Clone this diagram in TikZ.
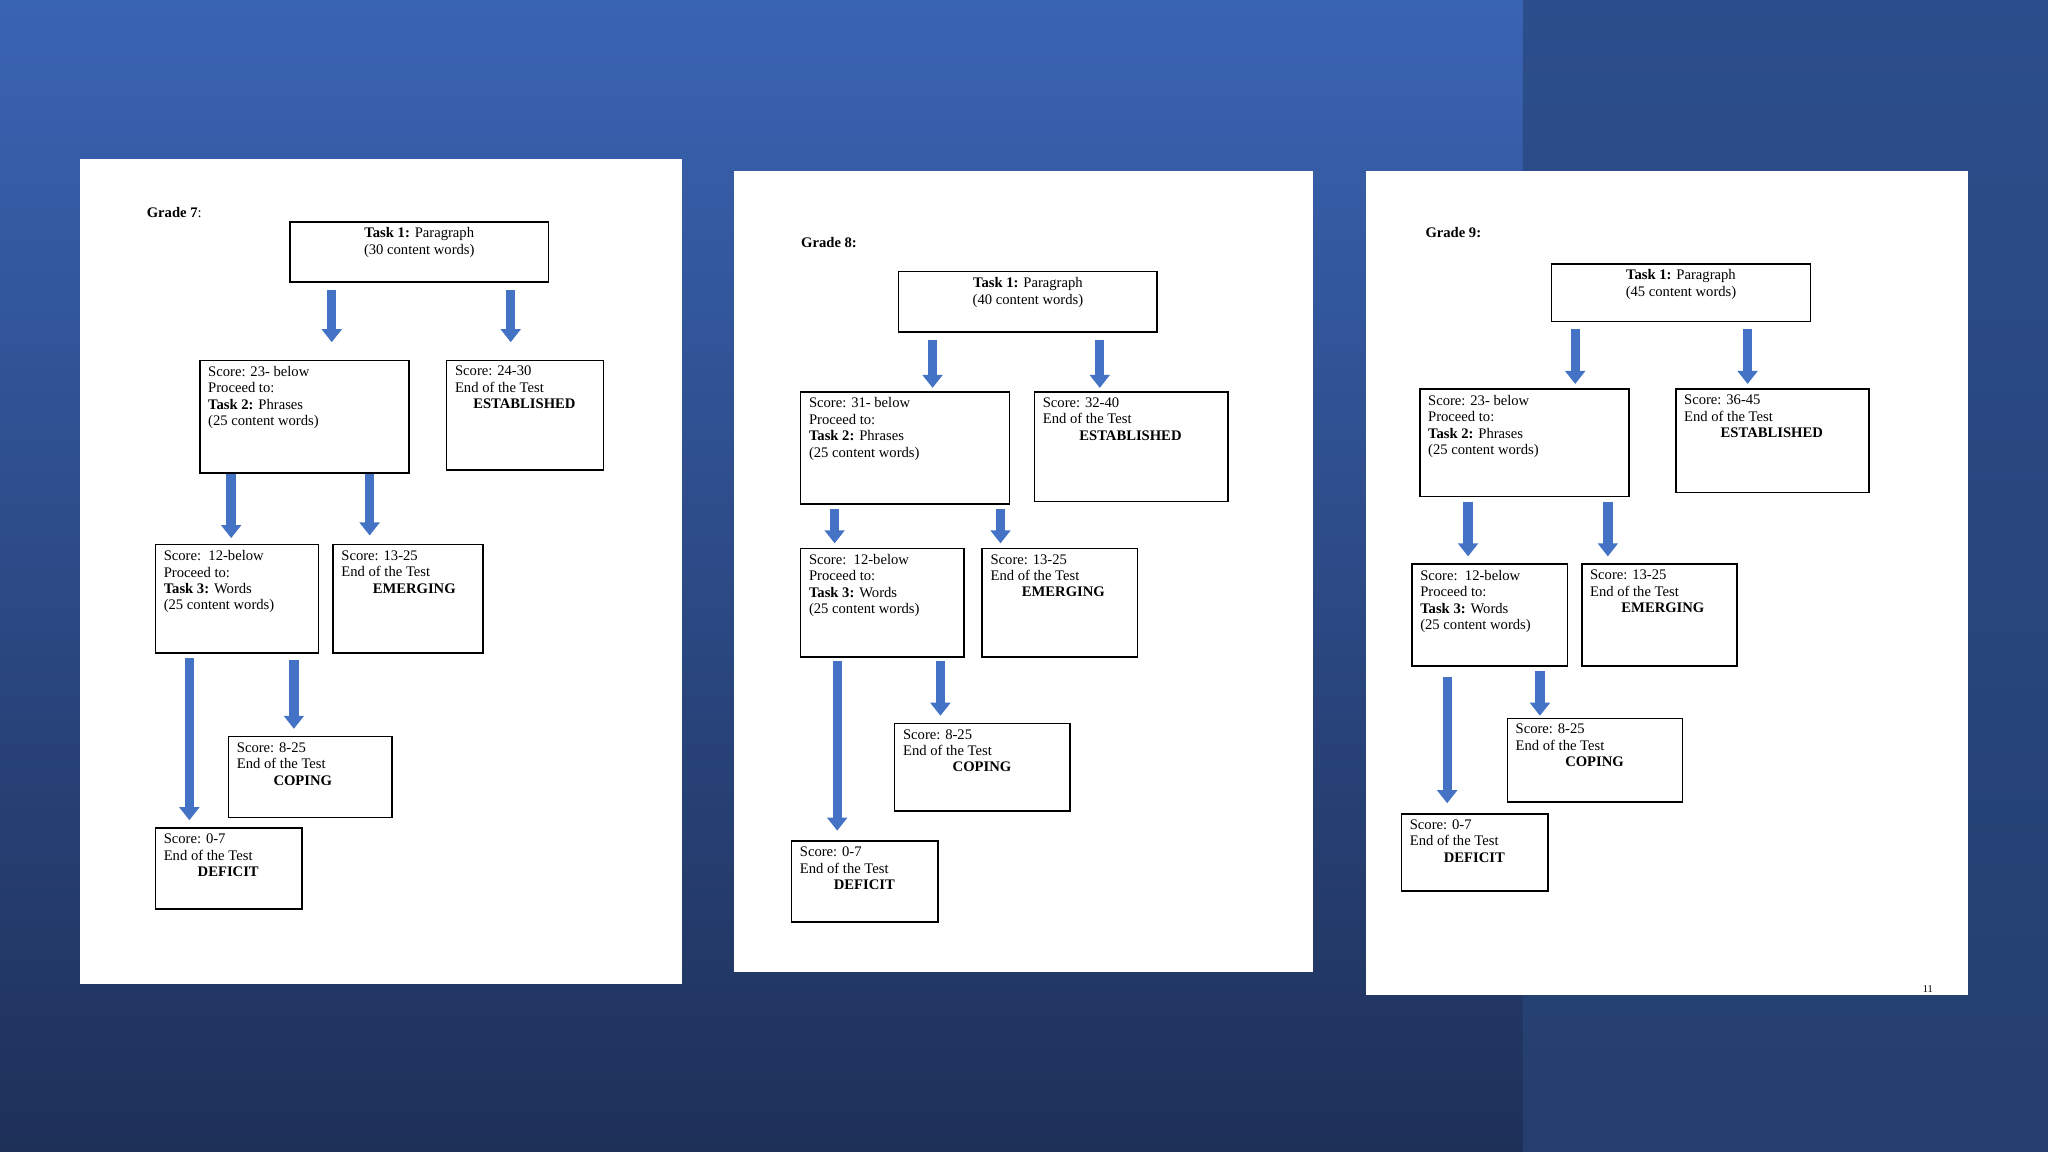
\documentclass[tikz,border=0pt]{standalone}
\usepackage{fontspec}
\setmainfont{Liberation Serif}
\usetikzlibrary{calc,arrows.meta}
\definecolor{arrblue}{RGB}{68,114,196}
\tikzset{
  boxst/.style={draw=black,line width=0.6pt,fill=white,inner sep=0pt,outer sep=0pt},
  txt/.style={inner sep=0pt,align=left,font=\fontsize{5.6}{6.3}\selectfont},
  barrow/.style={draw=arrblue,line width=3.6pt,-{Triangle[width=7.5pt,length=5pt]}},
  page/.style={fill=white,draw=none}
}
\newcommand\bx[6]{%
  \node[boxst,minimum width={(#4-#2)*0.5pt},minimum height={(#5-#3)*0.5pt}] (#1) at ({(#2+#4)/2},{(#3+#5)/2}) {};
  \node[txt,anchor=north west] (#1t) at ($(#1.north west)+(6,4)$) {#6};}
\newcommand\tbx[6]{%
  \node[boxst,minimum width={(#4-#2)*0.5pt},minimum height={(#5-#3)*0.5pt}] (#1) at ({(#2+#4)/2},{(#3+#5)/2}) {};
  \node[txt,anchor=north,align=center] (#1t) at ($(#1.north)+(0,4)$) {#6};}
\newcommand\arw[4]{\coordinate (#1a) at (#2,#3); \coordinate (#1b) at (#2,#4); \draw[barrow] (#1a) -- (#1b);}
\begin{document}
\begin{tikzpicture}[x=0.5pt,y=-0.5pt]
\useasboundingbox (0,0) rectangle (1568,882);
\shade[top color={rgb,255:red,58;green,100;blue,180}, bottom color={rgb,255:red,30;green,48;blue,88}] (0,0) rectangle (1166,882);
\shade[top color={rgb,255:red,44;green,78;blue,140}, bottom color={rgb,255:red,36;green,62;blue,110}] (1166,0) rectangle (1568,882);
% pages
\fill[page] (61,122) rectangle (522,753);
\fill[page] (562,131) rectangle (1005,744);
\fill[page] (1046,131) rectangle (1507,762);
% ---------- Grade 7
\node[txt,anchor=west] (g7) at (112,163) {\textbf{Grade 7}:};
\tbx{aT}{222}{170}{420}{216}{\textbf{Task 1:} Paragraph\\(30 content words)}
\bx{aA}{153}{276}{313}{362}{Score: 23- below\\Proceed to:\\\textbf{Task 2:} Phrases\\(25 content words)}
\bx{aB}{342}{276}{462}{360}{Score: 24-30\\End of the Test\\\hspace*{7pt}\textbf{ESTABLISHED}}
\bx{aC}{119}{417}{244}{500}{Score:\ \ 12-below\\Proceed to:\\\textbf{Task 3:} Words\\(25 content words)}
\bx{aD}{255}{417}{370}{500}{Score: 13-25\\End of the Test\\\hspace*{12pt}\textbf{EMERGING}}
\bx{aE}{175}{564}{300}{626}{Score: 8-25\\End of the Test\\\hspace*{14pt}\textbf{COPING}}
\bx{aF}{119}{634}{231}{696}{Score: 0-7\\End of the Test\\\hspace*{13pt}\textbf{DEFICIT}}
\arw{a1}{254}{222}{262}
\arw{a2}{391}{222}{262}
\arw{a3}{177}{363}{412}
\arw{a4}{283}{363}{410}
\arw{a5}{145}{504}{628}
\arw{a6}{225}{505}{558}
% ---------- Grade 8
\node[txt,anchor=west] (g8) at (613,186) {\textbf{Grade 8:}};
\tbx{bT}{688}{208}{886}{254}{\textbf{Task 1:} Paragraph\\(40 content words)}
\bx{bA}{613}{300}{773}{386}{Score: 31- below\\Proceed to:\\\textbf{Task 2:} Phrases\\(25 content words)}
\bx{bB}{792}{300}{940}{384}{Score: 32-40\\End of the Test\\\hspace*{14pt}\textbf{ESTABLISHED}}
\bx{bC}{613}{420}{738}{503}{Score:\ \ 12-below\\Proceed to:\\\textbf{Task 3:} Words\\(25 content words)}
\bx{bD}{752}{420}{871}{503}{Score: 13-25\\End of the Test\\\hspace*{12pt}\textbf{EMERGING}}
\bx{bE}{685}{554}{819}{621}{Score: 8-25\\End of the Test\\\hspace*{19pt}\textbf{COPING}}
\bx{bF}{606}{644}{718}{706}{Score: 0-7\\End of the Test\\\hspace*{13pt}\textbf{DEFICIT}}
\arw{b1}{714}{260}{297}
\arw{b2}{842}{260}{297}
\arw{b3}{639}{390}{416}
\arw{b4}{766}{390}{416}
\arw{b5}{641}{506}{636}
\arw{b6}{720}{506}{548}
% ---------- Grade 9
\node[txt,anchor=west] (g9) at (1091,178) {\textbf{Grade 9:}};
\tbx{cT}{1188}{202}{1386}{246}{\textbf{Task 1:} Paragraph\\(45 content words)}
\bx{cA}{1087}{298}{1247}{380}{Score: 23- below\\Proceed to:\\\textbf{Task 2:} Phrases\\(25 content words)}
\bx{cB}{1283}{298}{1431}{377}{Score: 36-45\\End of the Test\\\hspace*{14pt}\textbf{ESTABLISHED}}
\bx{cC}{1081}{432}{1200}{510}{Score:\ \ 12-below\\Proceed to:\\\textbf{Task 3:} Words\\(25 content words)}
\bx{cD}{1211}{432}{1330}{510}{Score: 13-25\\End of the Test\\\hspace*{12pt}\textbf{EMERGING}}
\bx{cE}{1154}{550}{1288}{614}{Score: 8-25\\End of the Test\\\hspace*{19pt}\textbf{COPING}}
\bx{cF}{1073}{623}{1185}{682}{Score: 0-7\\End of the Test\\\hspace*{13pt}\textbf{DEFICIT}}
\arw{c1}{1206}{252}{294}
\arw{c2}{1338}{252}{294}
\arw{c3}{1124}{384}{426}
\arw{c4}{1231}{384}{426}
\arw{c5}{1108}{518}{615}
\arw{c6}{1179}{514}{548}
\node[txt,font=\fontsize{4}{5}\selectfont] (pn) at (1476,757) {11};
\end{tikzpicture}
\end{document}
